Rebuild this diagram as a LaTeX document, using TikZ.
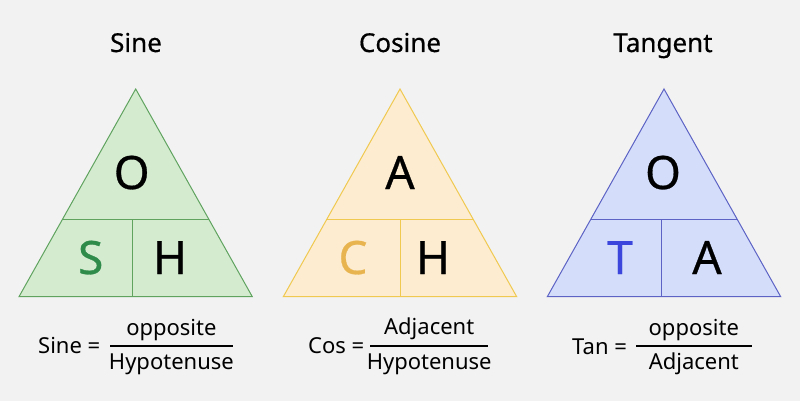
\documentclass[tikz,border=0pt]{standalone}
\usepackage{fontspec}
\setmainfont{Noto Sans}
\newfontfamily\heavyfont[FakeBold=0.6]{Noto Sans}
\usetikzlibrary{calc}
\definecolor{bg}{HTML}{F2F2F2}
\definecolor{gfill}{RGB}{213,235,208}
\definecolor{gline}{RGB}{95,163,95}
\definecolor{gtext}{RGB}{46,139,74}
\definecolor{yfill}{RGB}{253,236,207}
\definecolor{yline}{RGB}{240,201,80}
\definecolor{ytext}{RGB}{232,180,80}
\definecolor{bfill}{RGB}{212,221,250}
\definecolor{bline}{RGB}{92,99,196}
\definecolor{btext}{RGB}{60,70,220}
\tikzset{
  title/.style={anchor=base, inner sep=0pt, font=\heavyfont\fontsize{26}{30}\selectfont},
  letter/.style={anchor=base, inner sep=0pt, font=\heavyfont\fontsize{46}{50}\selectfont},
  ftext/.style={inner sep=0pt, font=\fontsize{22}{26}\selectfont},
  bar/.style={line width=1.6pt, black},
}
\begin{document}
\begin{tikzpicture}[x=1pt,y=-1pt]
\fill[bg] (0,0) rectangle (800,401);
\useasboundingbox (0,0) rectangle (800,401);

% ---------- Sine ----------
\coordinate (st) at (135.7,89);
\coordinate (sl) at (19,296.7);
\coordinate (sr) at (252.3,296.7);
\filldraw[fill=gfill, draw=gline, line width=1pt, line join=miter] (st) -- (sr) -- (sl) -- cycle;
\draw[gline, line width=1pt] ($(st)!0.627!(sl)$) -- ($(st)!0.627!(sr)$);
\coordinate (svt) at (132.3,219.3);
\coordinate (svb) at (132.3,296.7);
\draw[gline, line width=1pt] (svt) -- (svb);
\node[title] (stitle) at (136,52) {Sine};
\node[letter] (sO) at (131.7,189) {O};
\node[letter, text=gtext] (sS) at (90.7,274) {S};
\node[letter] (sH) at (170,274) {H};
\node[ftext, anchor=base west] (sf) at (38,353) {Sine =};
\coordinate (sb1) at (110,345.7);
\coordinate (sb2) at (232.7,345.7);
\draw[bar] (sb1) -- (sb2);
\node[ftext, anchor=base] (snum) at (171.4,335) {opposite};
\node[ftext, anchor=base] (sden) at (171.4,369) {Hypotenuse};

% ---------- Cosine ----------
\coordinate (ct) at (400,89);
\coordinate (cl) at (283.3,296.7);
\coordinate (cr) at (516.7,296.7);
\filldraw[fill=yfill, draw=yline, line width=1pt, line join=miter] (ct) -- (cr) -- (cl) -- cycle;
\draw[yline, line width=1pt] ($(ct)!0.627!(cl)$) -- ($(ct)!0.627!(cr)$);
\coordinate (cvt) at (400.3,219.3);
\coordinate (cvb) at (400.3,296.7);
\draw[yline, line width=1pt] (cvt) -- (cvb);
\node[title] (ctitle) at (400,52) {Cosine};
\node[letter] (cA) at (400,189) {A};
\node[letter, text=ytext] (cC) at (353,274) {C};
\node[letter] (cH) at (433,274) {H};
\node[ftext, anchor=base west] (cf) at (308,353) {Cos =};
\coordinate (cb1) at (370,345.7);
\coordinate (cb2) at (488.3,345.7);
\draw[bar] (cb1) -- (cb2);
\node[ftext, anchor=base] (cnum) at (429.2,334) {Adjacent};
\node[ftext, anchor=base] (cden) at (429.2,369) {Hypotenuse};

% ---------- Tangent ----------
\coordinate (tt) at (664,89);
\coordinate (tl) at (547.3,296.7);
\coordinate (tr) at (780.7,296.7);
\filldraw[fill=bfill, draw=bline, line width=1pt, line join=miter] (tt) -- (tr) -- (tl) -- cycle;
\draw[bline, line width=1pt] ($(tt)!0.627!(tl)$) -- ($(tt)!0.627!(tr)$);
\coordinate (tvt) at (661.7,219.3);
\coordinate (tvb) at (661.7,296.7);
\draw[bline, line width=1pt] (tvt) -- (tvb);
\node[title] (ttitle) at (663,52) {Tangent};
\node[letter] (tO) at (663,189) {O};
\node[letter, text=btext] (tT) at (620,274) {T};
\node[letter] (tA) at (707,274) {A};
\node[ftext, anchor=base west] (tf) at (572,354) {Tan =};
\coordinate (tb1) at (636,345.7);
\coordinate (tb2) at (751.7,345.7);
\draw[bar] (tb1) -- (tb2);
\node[ftext, anchor=base] (tnum) at (693.8,335) {opposite};
\node[ftext, anchor=base] (tden) at (693.8,369) {Adjacent};
\end{tikzpicture}
\end{document}
